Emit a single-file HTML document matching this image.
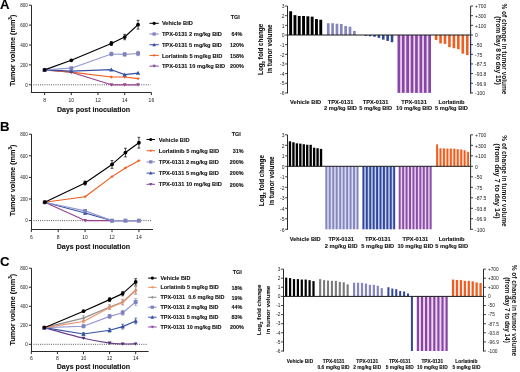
<!DOCTYPE html>
<html><head><meta charset="utf-8"><title>Figure</title>
<style>
html,body{margin:0;padding:0;background:#fff;}
body{width:520px;height:372px;overflow:hidden;}
svg{display:block;filter:blur(0.25px);font-family:"Liberation Sans", sans-serif;}
text{stroke:#111;stroke-width:0.1px;}
text[font-weight="normal"],text.ns{stroke:none;}
</style></head>
<body>
<svg width="520" height="372" viewBox="0 0 520 372">
<rect width="520" height="372" fill="#fff"/>
<text x="0" y="9.2" font-size="13.2" font-weight="bold" text-anchor="start" fill="#000" >A</text>
<line x1="31.5" y1="5.2" x2="31.5" y2="93" stroke="#2a2a2a" stroke-width="1" />
<line x1="31" y1="92.5" x2="151.5" y2="92.5" stroke="#2a2a2a" stroke-width="1.0" />
<line x1="28.9" y1="84.8" x2="31.5" y2="84.8" stroke="#2a2a2a" stroke-width="1" />
<text x="27.9" y="86.5" font-size="4.6" font-weight="normal" text-anchor="end" fill="#222" >0</text>
<line x1="28.9" y1="64.9" x2="31.5" y2="64.9" stroke="#2a2a2a" stroke-width="1" />
<text x="27.9" y="66.6" font-size="4.6" font-weight="normal" text-anchor="end" fill="#222" >200</text>
<line x1="28.9" y1="45" x2="31.5" y2="45" stroke="#2a2a2a" stroke-width="1" />
<text x="27.9" y="46.7" font-size="4.6" font-weight="normal" text-anchor="end" fill="#222" >400</text>
<line x1="28.9" y1="25.1" x2="31.5" y2="25.1" stroke="#2a2a2a" stroke-width="1" />
<text x="27.9" y="26.8" font-size="4.6" font-weight="normal" text-anchor="end" fill="#222" >600</text>
<line x1="28.9" y1="5.2" x2="31.5" y2="5.2" stroke="#2a2a2a" stroke-width="1" />
<text x="27.9" y="6.9" font-size="4.6" font-weight="normal" text-anchor="end" fill="#222" >800</text>
<line x1="44.6" y1="92.5" x2="44.6" y2="95.1" stroke="#2a2a2a" stroke-width="1" />
<text x="44.6" y="102.2" font-size="5.0" font-weight="normal" text-anchor="middle" fill="#222" >8</text>
<line x1="71.3" y1="92.5" x2="71.3" y2="95.1" stroke="#2a2a2a" stroke-width="1" />
<text x="71.3" y="102.2" font-size="5.0" font-weight="normal" text-anchor="middle" fill="#222" >10</text>
<line x1="98" y1="92.5" x2="98" y2="95.1" stroke="#2a2a2a" stroke-width="1" />
<text x="98" y="102.2" font-size="5.0" font-weight="normal" text-anchor="middle" fill="#222" >12</text>
<line x1="124.7" y1="92.5" x2="124.7" y2="95.1" stroke="#2a2a2a" stroke-width="1" />
<text x="124.7" y="102.2" font-size="5.0" font-weight="normal" text-anchor="middle" fill="#222" >14</text>
<line x1="151.4" y1="92.5" x2="151.4" y2="95.1" stroke="#2a2a2a" stroke-width="1" />
<text x="151.4" y="102.2" font-size="5.0" font-weight="normal" text-anchor="middle" fill="#222" >16</text>
<line x1="33.5" y1="84.8" x2="150.5" y2="84.8" stroke="#333" stroke-width="0.9" stroke-dasharray="0.9 1.3"/>
<text x="93.5" y="112" font-size="7.05" font-weight="bold" text-anchor="middle" fill="#111" >Days post inoculation</text>
<text x="0" y="0" transform="translate(14.5,50.5) rotate(-90) scale(1,1.05)" font-size="7.25" font-weight="bold" text-anchor="middle" fill="#111">Tumor volume (mm<tspan font-size="4.6" dy="-2.6">3</tspan><tspan dy="2.6">)</tspan></text>
<path d="M44.6,69.88 L71.3,72.26 L111.35,84.8 L124.7,84.8 L138.05,84.8" fill="none" stroke="#9a4292" stroke-width="1.15" stroke-linejoin="round" />
<path d="M44.6,71.78 L46.5,68.36 L42.7,68.36 Z" fill="#9a4292"/>
<path d="M71.3,74.16 L73.2,70.74 L69.4,70.74 Z" fill="#9a4292"/>
<path d="M111.35,86.7 L113.25,83.28 L109.45,83.28 Z" fill="#9a4292"/>
<path d="M124.7,86.7 L126.6,83.28 L122.8,83.28 Z" fill="#9a4292"/>
<path d="M138.05,86.7 L139.95,83.28 L136.15,83.28 Z" fill="#9a4292"/>
<path d="M44.6,69.88 L71.3,72.06 L111.35,77.04 L124.7,77.04 L138.05,78.63" fill="none" stroke="#f05d20" stroke-width="1.15" stroke-linejoin="round" />
<path d="M43.2,69.88 H46 M44.6,68.47 V71.28" stroke="#f05d20" stroke-width="1"/>
<path d="M69.9,72.06 H72.7 M71.3,70.66 V73.46" stroke="#f05d20" stroke-width="1"/>
<path d="M109.95,77.04 H112.75 M111.35,75.64 V78.44" stroke="#f05d20" stroke-width="1"/>
<path d="M123.3,77.04 H126.1 M124.7,75.64 V78.44" stroke="#f05d20" stroke-width="1"/>
<path d="M136.65,78.63 H139.45 M138.05,77.23 V80.03" stroke="#f05d20" stroke-width="1"/>
<path d="M44.6,69.88 L71.3,71.17 L111.35,69.68 L124.7,74.65 L138.05,73.06" fill="none" stroke="#3651a3" stroke-width="1.15" stroke-linejoin="round" />
<path d="M44.6,67.67 L46.8,71.64 L42.4,71.64 Z" fill="#3651a3"/>
<path d="M71.3,68.97 L73.5,72.93 L69.1,72.93 Z" fill="#3651a3"/>
<path d="M111.35,67.48 L113.55,71.44 L109.15,71.44 Z" fill="#3651a3"/>
<path d="M124.7,72.45 L126.9,76.41 L122.5,76.41 Z" fill="#3651a3"/>
<path d="M138.05,70.86 L140.25,74.82 L135.85,74.82 Z" fill="#3651a3"/>
<path d="M44.6,69.88 L71.3,68.18 L111.35,53.95 L124.7,54.35 L138.05,53.46" fill="none" stroke="#9598d0" stroke-width="1.15" stroke-linejoin="round" />
<rect x="42.7" y="67.97" width="3.8" height="3.8" fill="#7f83bd"/>
<rect x="69.4" y="66.28" width="3.8" height="3.8" fill="#7f83bd"/>
<line x1="111.35" y1="52.16" x2="111.35" y2="55.75" stroke="#7f83bd" stroke-width="0.7" />
<line x1="109.95" y1="52.16" x2="112.75" y2="52.16" stroke="#7f83bd" stroke-width="0.7" />
<line x1="109.95" y1="55.75" x2="112.75" y2="55.75" stroke="#7f83bd" stroke-width="0.7" />
<rect x="109.45" y="52.05" width="3.8" height="3.8" fill="#7f83bd"/>
<line x1="124.7" y1="52.56" x2="124.7" y2="56.14" stroke="#7f83bd" stroke-width="0.7" />
<line x1="123.3" y1="52.56" x2="126.1" y2="52.56" stroke="#7f83bd" stroke-width="0.7" />
<line x1="123.3" y1="56.14" x2="126.1" y2="56.14" stroke="#7f83bd" stroke-width="0.7" />
<rect x="122.8" y="52.45" width="3.8" height="3.8" fill="#7f83bd"/>
<line x1="138.05" y1="51.27" x2="138.05" y2="55.65" stroke="#7f83bd" stroke-width="0.7" />
<line x1="136.65" y1="51.27" x2="139.45" y2="51.27" stroke="#7f83bd" stroke-width="0.7" />
<line x1="136.65" y1="55.65" x2="139.45" y2="55.65" stroke="#7f83bd" stroke-width="0.7" />
<rect x="136.15" y="51.56" width="3.8" height="3.8" fill="#7f83bd"/>
<path d="M44.6,69.88 L71.3,60.32 L111.35,43.51 L124.7,37.04 L138.05,24.7" fill="none" stroke="#000" stroke-width="1.15" stroke-linejoin="round" />
<circle cx="44.6" cy="69.88" r="1.9" fill="#000"/>
<circle cx="71.3" cy="60.32" r="1.9" fill="#000"/>
<line x1="111.35" y1="41.52" x2="111.35" y2="45.5" stroke="#000" stroke-width="0.7" />
<line x1="109.95" y1="41.52" x2="112.75" y2="41.52" stroke="#000" stroke-width="0.7" />
<line x1="109.95" y1="45.5" x2="112.75" y2="45.5" stroke="#000" stroke-width="0.7" />
<circle cx="111.35" cy="43.51" r="1.9" fill="#000"/>
<line x1="124.7" y1="34.35" x2="124.7" y2="39.73" stroke="#000" stroke-width="0.7" />
<line x1="123.3" y1="34.35" x2="126.1" y2="34.35" stroke="#000" stroke-width="0.7" />
<line x1="123.3" y1="39.73" x2="126.1" y2="39.73" stroke="#000" stroke-width="0.7" />
<circle cx="124.7" cy="37.04" r="1.9" fill="#000"/>
<line x1="138.05" y1="20.32" x2="138.05" y2="29.08" stroke="#000" stroke-width="0.7" />
<line x1="136.65" y1="20.32" x2="139.45" y2="20.32" stroke="#000" stroke-width="0.7" />
<line x1="136.65" y1="29.08" x2="139.45" y2="29.08" stroke="#000" stroke-width="0.7" />
<circle cx="138.05" cy="24.7" r="1.9" fill="#000"/>
<line x1="149.5" y1="23.3" x2="158.8" y2="23.3" stroke="#000" stroke-width="1" />
<circle cx="154.15" cy="23.3" r="1.61" fill="#000"/>
<text x="161.9" y="25.4" font-size="5.7" font-weight="bold" text-anchor="start" fill="#111" >Vehicle BID</text>
<line x1="149.5" y1="34" x2="158.8" y2="34" stroke="#7f83bd" stroke-width="1" />
<rect x="152.53" y="32.38" width="3.23" height="3.23" fill="#7f83bd"/>
<text x="161.9" y="36.1" font-size="5.7" font-weight="bold" text-anchor="start" fill="#111" >TPX-0131 2 mg/kg BID</text>
<text x="236.9" y="36.2" font-size="5.4" font-weight="bold" text-anchor="middle" fill="#111" >64%</text>
<line x1="149.5" y1="44.7" x2="158.8" y2="44.7" stroke="#3651a3" stroke-width="1" />
<path d="M154.15,42.83 L156.02,46.2 L152.28,46.2 Z" fill="#3651a3"/>
<text x="161.9" y="46.8" font-size="5.7" font-weight="bold" text-anchor="start" fill="#111" >TPX-0131 5 mg/kg BID</text>
<text x="236.9" y="46.9" font-size="5.4" font-weight="bold" text-anchor="middle" fill="#111" >120%</text>
<line x1="149.5" y1="55.4" x2="158.8" y2="55.4" stroke="#f05d20" stroke-width="1" />
<path d="M152.96,55.4 H155.34 M154.15,54.21 V56.59" stroke="#f05d20" stroke-width="1"/>
<text x="161.9" y="57.5" font-size="5.7" font-weight="bold" text-anchor="start" fill="#111" >Lorlatinib 5 mg/kg BID</text>
<text x="236.9" y="57.6" font-size="5.4" font-weight="bold" text-anchor="middle" fill="#111" >158%</text>
<line x1="149.5" y1="66.1" x2="158.8" y2="66.1" stroke="#8447a2" stroke-width="1" />
<path d="M154.15,67.71 L155.77,64.81 L152.53,64.81 Z" fill="#8447a2"/>
<text x="161.9" y="68.2" font-size="5.7" font-weight="bold" text-anchor="start" fill="#111" >TPX-0131 10 mg/kg BID</text>
<text x="236.9" y="68.3" font-size="5.4" font-weight="bold" text-anchor="middle" fill="#111" >200%</text>
<text x="235.3" y="19.2" font-size="5.4" font-weight="bold" text-anchor="middle" fill="#111" >TGI</text>
<rect x="289.2" y="11.26" width="2.9" height="23.74" fill="#000"/>
<rect x="293.5" y="15.12" width="2.9" height="19.88" fill="#000"/>
<rect x="297.8" y="15.99" width="2.9" height="19.01" fill="#000"/>
<rect x="302.1" y="15.99" width="2.9" height="19.01" fill="#000"/>
<rect x="306.4" y="16.28" width="2.9" height="18.72" fill="#000"/>
<rect x="310.7" y="16.66" width="2.9" height="18.34" fill="#000"/>
<rect x="315" y="19.08" width="2.9" height="15.92" fill="#000"/>
<rect x="319.3" y="19.75" width="2.9" height="15.25" fill="#000"/>
<rect x="326.9" y="23.23" width="2.7" height="11.77" fill="#8586be"/>
<rect x="331.25" y="23.23" width="2.7" height="11.77" fill="#8586be"/>
<rect x="335.6" y="23.71" width="2.7" height="11.29" fill="#8586be"/>
<rect x="339.95" y="24" width="2.7" height="11" fill="#8586be"/>
<rect x="344.3" y="26.03" width="2.7" height="8.97" fill="#8586be"/>
<rect x="348.65" y="26.7" width="2.7" height="8.3" fill="#8586be"/>
<rect x="353" y="30.95" width="2.7" height="4.05" fill="#8586be"/>
<rect x="364.5" y="35" width="2.6" height="0.87" fill="#33479a"/>
<rect x="368.87" y="35" width="2.6" height="1.25" fill="#33479a"/>
<rect x="373.24" y="35" width="2.6" height="1.74" fill="#33479a"/>
<rect x="377.61" y="35" width="2.6" height="2.9" fill="#33479a"/>
<rect x="381.98" y="35" width="2.6" height="4.63" fill="#33479a"/>
<rect x="386.35" y="35" width="2.6" height="5.89" fill="#33479a"/>
<rect x="390.72" y="35" width="2.6" height="7.24" fill="#33479a"/>
<rect x="400" y="35" width="2.1" height="57.9" fill="#f4d2f6"/>
<rect x="404.4" y="35" width="2.1" height="57.9" fill="#f4d2f6"/>
<rect x="408.8" y="35" width="2.1" height="57.9" fill="#f4d2f6"/>
<rect x="413.2" y="35" width="2.1" height="57.9" fill="#f4d2f6"/>
<rect x="417.6" y="35" width="2.1" height="57.9" fill="#f4d2f6"/>
<rect x="422" y="35" width="2.1" height="57.9" fill="#f4d2f6"/>
<rect x="426.4" y="35" width="2.1" height="57.9" fill="#f4d2f6"/>
<rect x="397.5" y="35" width="2.7" height="57.9" fill="#8447a2"/>
<rect x="401.9" y="35" width="2.7" height="57.9" fill="#8447a2"/>
<rect x="406.3" y="35" width="2.7" height="57.9" fill="#8447a2"/>
<rect x="410.7" y="35" width="2.7" height="57.9" fill="#8447a2"/>
<rect x="415.1" y="35" width="2.7" height="57.9" fill="#8447a2"/>
<rect x="419.5" y="35" width="2.7" height="57.9" fill="#8447a2"/>
<rect x="423.9" y="35" width="2.7" height="57.9" fill="#8447a2"/>
<rect x="428.3" y="35" width="2.7" height="57.9" fill="#8447a2"/>
<rect x="434.8" y="35" width="2.6" height="5.02" fill="#f05d20"/>
<rect x="439.25" y="35" width="2.6" height="8.4" fill="#f05d20"/>
<rect x="443.7" y="35" width="2.6" height="8.88" fill="#f05d20"/>
<rect x="448.15" y="35" width="2.6" height="12.16" fill="#f05d20"/>
<rect x="452.6" y="35" width="2.6" height="13.22" fill="#f05d20"/>
<rect x="457.05" y="35" width="2.6" height="14.19" fill="#f05d20"/>
<rect x="461.5" y="35" width="2.6" height="18.62" fill="#f05d20"/>
<rect x="465.95" y="35" width="2.6" height="20.07" fill="#f05d20"/>
<line x1="287.5" y1="35" x2="470.6" y2="35" stroke="#1a1a1a" stroke-width="1.0" />
<line x1="287.5" y1="6.05" x2="287.5" y2="93.4" stroke="#2a2a2a" stroke-width="1.0" />
<line x1="285.1" y1="92.9" x2="287.5" y2="92.9" stroke="#2a2a2a" stroke-width="0.9" />
<text x="284.5" y="95.1" font-size="5.0" font-weight="normal" text-anchor="end" fill="#222" >-6</text>
<line x1="285.1" y1="83.25" x2="287.5" y2="83.25" stroke="#2a2a2a" stroke-width="0.9" />
<text x="284.5" y="85.45" font-size="5.0" font-weight="normal" text-anchor="end" fill="#222" >-5</text>
<line x1="285.1" y1="73.6" x2="287.5" y2="73.6" stroke="#2a2a2a" stroke-width="0.9" />
<text x="284.5" y="75.8" font-size="5.0" font-weight="normal" text-anchor="end" fill="#222" >-4</text>
<line x1="285.1" y1="63.95" x2="287.5" y2="63.95" stroke="#2a2a2a" stroke-width="0.9" />
<text x="284.5" y="66.15" font-size="5.0" font-weight="normal" text-anchor="end" fill="#222" >-3</text>
<line x1="285.1" y1="54.3" x2="287.5" y2="54.3" stroke="#2a2a2a" stroke-width="0.9" />
<text x="284.5" y="56.5" font-size="5.0" font-weight="normal" text-anchor="end" fill="#222" >-2</text>
<line x1="285.1" y1="44.65" x2="287.5" y2="44.65" stroke="#2a2a2a" stroke-width="0.9" />
<text x="284.5" y="46.85" font-size="5.0" font-weight="normal" text-anchor="end" fill="#222" >-1</text>
<line x1="285.1" y1="35" x2="287.5" y2="35" stroke="#2a2a2a" stroke-width="0.9" />
<text x="284.5" y="37.2" font-size="5.0" font-weight="normal" text-anchor="end" fill="#222" >0</text>
<line x1="285.1" y1="25.35" x2="287.5" y2="25.35" stroke="#2a2a2a" stroke-width="0.9" />
<text x="284.5" y="27.55" font-size="5.0" font-weight="normal" text-anchor="end" fill="#222" >1</text>
<line x1="285.1" y1="15.7" x2="287.5" y2="15.7" stroke="#2a2a2a" stroke-width="0.9" />
<text x="284.5" y="17.9" font-size="5.0" font-weight="normal" text-anchor="end" fill="#222" >2</text>
<line x1="285.1" y1="6.05" x2="287.5" y2="6.05" stroke="#2a2a2a" stroke-width="0.9" />
<text x="284.5" y="8.25" font-size="5.0" font-weight="normal" text-anchor="end" fill="#222" >3</text>
<line x1="470.6" y1="6.05" x2="470.6" y2="93.4" stroke="#2a2a2a" stroke-width="1.0" />
<line x1="470.6" y1="31.14" x2="470.6" y2="93.4" stroke="#22306e" stroke-width="1.0" />
<line x1="470.6" y1="6.05" x2="473" y2="6.05" stroke="#2a2a2a" stroke-width="0.9" />
<text x="475" y="8.35" font-size="5.0" font-weight="normal" text-anchor="start" fill="#222" >+700</text>
<line x1="470.6" y1="15.7" x2="473" y2="15.7" stroke="#2a2a2a" stroke-width="0.9" />
<text x="475" y="18" font-size="5.0" font-weight="normal" text-anchor="start" fill="#222" >+300</text>
<line x1="470.6" y1="25.35" x2="473" y2="25.35" stroke="#2a2a2a" stroke-width="0.9" />
<text x="475" y="27.65" font-size="5.0" font-weight="normal" text-anchor="start" fill="#222" >+100</text>
<line x1="470.6" y1="35" x2="473" y2="35" stroke="#2a2a2a" stroke-width="0.9" />
<text x="475" y="37.3" font-size="5.0" font-weight="normal" text-anchor="start" fill="#222" >0</text>
<line x1="470.6" y1="44.65" x2="473" y2="44.65" stroke="#2a2a2a" stroke-width="0.9" />
<text x="475" y="46.95" font-size="5.0" font-weight="normal" text-anchor="start" fill="#222" >-50</text>
<line x1="470.6" y1="54.3" x2="473" y2="54.3" stroke="#2a2a2a" stroke-width="0.9" />
<text x="475" y="56.6" font-size="5.0" font-weight="normal" text-anchor="start" fill="#222" >-75</text>
<line x1="470.6" y1="63.95" x2="473" y2="63.95" stroke="#2a2a2a" stroke-width="0.9" />
<text x="475" y="66.25" font-size="5.0" font-weight="normal" text-anchor="start" fill="#222" >-87.5</text>
<line x1="470.6" y1="73.6" x2="473" y2="73.6" stroke="#2a2a2a" stroke-width="0.9" />
<text x="475" y="75.9" font-size="5.0" font-weight="normal" text-anchor="start" fill="#222" >-93.8</text>
<line x1="470.6" y1="83.25" x2="473" y2="83.25" stroke="#2a2a2a" stroke-width="0.9" />
<text x="475" y="85.55" font-size="5.0" font-weight="normal" text-anchor="start" fill="#222" >-96.9</text>
<line x1="470.6" y1="92.9" x2="473" y2="92.9" stroke="#2a2a2a" stroke-width="0.9" />
<text x="475" y="95.2" font-size="5.0" font-weight="normal" text-anchor="start" fill="#222" >-100</text>
<text transform="translate(263.3,49.4) rotate(-90)" font-size="6.3" font-weight="bold" text-anchor="middle" fill="#111">Log<tspan font-size="4.4" dy="2">2</tspan><tspan dy="-2"> fold change</tspan></text>
<text transform="translate(272.3,49) rotate(-90)" font-size="6.3" font-weight="bold" text-anchor="middle" fill="#111">in tumor volume</text>
<text transform="translate(501.5,49) rotate(90)" class="ns" font-size="6.5" font-weight="bold" text-anchor="middle" fill="#111" textLength="91" lengthAdjust="spacingAndGlyphs">% of change in tumor volume</text>
<text transform="translate(495.8,50.4) rotate(90)" class="ns" font-size="6.6" font-weight="bold" text-anchor="middle" fill="#111" textLength="68.5" lengthAdjust="spacingAndGlyphs">(from day 8 to day 15)</text>
<text x="305.6" y="103.6" font-size="5.7" font-weight="bold" text-anchor="middle" fill="#111" >Vehicle BID</text>
<text x="340.5" y="103.6" font-size="5.7" font-weight="bold" text-anchor="middle" fill="#111" >TPX-0131</text>
<text x="340.5" y="110" font-size="5.7" font-weight="bold" text-anchor="middle" fill="#111" >2 mg/kg BID</text>
<text x="375.6" y="103.6" font-size="5.7" font-weight="bold" text-anchor="middle" fill="#111" >TPX-0131</text>
<text x="375.6" y="110" font-size="5.7" font-weight="bold" text-anchor="middle" fill="#111" >5 mg/kg BID</text>
<text x="414" y="103.6" font-size="5.7" font-weight="bold" text-anchor="middle" fill="#111" >TPX-0131</text>
<text x="414" y="110" font-size="5.7" font-weight="bold" text-anchor="middle" fill="#111" >10 mg/kg BID</text>
<text x="451.5" y="103.6" font-size="5.7" font-weight="bold" text-anchor="middle" fill="#111" >Lorlatinib</text>
<text x="451.5" y="110" font-size="5.7" font-weight="bold" text-anchor="middle" fill="#111" >5 mg/kg BID</text>
<text x="0" y="131.3" font-size="13.2" font-weight="bold" text-anchor="start" fill="#000" >B</text>
<line x1="31.5" y1="134.1" x2="31.5" y2="230" stroke="#2a2a2a" stroke-width="1" />
<line x1="31" y1="229.5" x2="153" y2="229.5" stroke="#2a2a2a" stroke-width="1.0" />
<line x1="28.9" y1="220.6" x2="31.5" y2="220.6" stroke="#2a2a2a" stroke-width="1" />
<text x="27.9" y="222.3" font-size="4.6" font-weight="normal" text-anchor="end" fill="#222" >0</text>
<line x1="28.9" y1="199" x2="31.5" y2="199" stroke="#2a2a2a" stroke-width="1" />
<text x="27.9" y="200.7" font-size="4.6" font-weight="normal" text-anchor="end" fill="#222" >200</text>
<line x1="28.9" y1="177.4" x2="31.5" y2="177.4" stroke="#2a2a2a" stroke-width="1" />
<text x="27.9" y="179.1" font-size="4.6" font-weight="normal" text-anchor="end" fill="#222" >400</text>
<line x1="28.9" y1="155.8" x2="31.5" y2="155.8" stroke="#2a2a2a" stroke-width="1" />
<text x="27.9" y="157.5" font-size="4.6" font-weight="normal" text-anchor="end" fill="#222" >600</text>
<line x1="28.9" y1="134.2" x2="31.5" y2="134.2" stroke="#2a2a2a" stroke-width="1" />
<text x="27.9" y="135.9" font-size="4.6" font-weight="normal" text-anchor="end" fill="#222" >800</text>
<line x1="31.3" y1="229.5" x2="31.3" y2="232.1" stroke="#2a2a2a" stroke-width="1" />
<text x="31.3" y="238.7" font-size="5.0" font-weight="normal" text-anchor="middle" fill="#222" >6</text>
<line x1="58.2" y1="229.5" x2="58.2" y2="232.1" stroke="#2a2a2a" stroke-width="1" />
<text x="58.2" y="238.7" font-size="5.0" font-weight="normal" text-anchor="middle" fill="#222" >8</text>
<line x1="85.1" y1="229.5" x2="85.1" y2="232.1" stroke="#2a2a2a" stroke-width="1" />
<text x="85.1" y="238.7" font-size="5.0" font-weight="normal" text-anchor="middle" fill="#222" >10</text>
<line x1="112" y1="229.5" x2="112" y2="232.1" stroke="#2a2a2a" stroke-width="1" />
<text x="112" y="238.7" font-size="5.0" font-weight="normal" text-anchor="middle" fill="#222" >12</text>
<line x1="138.9" y1="229.5" x2="138.9" y2="232.1" stroke="#2a2a2a" stroke-width="1" />
<text x="138.9" y="238.7" font-size="5.0" font-weight="normal" text-anchor="middle" fill="#222" >14</text>
<line x1="33.5" y1="220.6" x2="151.5" y2="220.6" stroke="#333" stroke-width="0.9" stroke-dasharray="0.9 1.3"/>
<text x="93.4" y="249.3" font-size="7.05" font-weight="bold" text-anchor="middle" fill="#111" >Days post inoculation</text>
<text x="0" y="0" transform="translate(14.5,180.4) rotate(-90) scale(1,1.05)" font-size="7.25" font-weight="bold" text-anchor="middle" fill="#111">Tumor volume (mm<tspan font-size="4.6" dy="-2.6">3</tspan><tspan dy="2.6">)</tspan></text>
<path d="M44.75,202.24 L85.1,220.6 L112,220.6 L125.45,220.6 L138.9,220.6" fill="none" stroke="#9a4292" stroke-width="1.15" stroke-linejoin="round" />
<path d="M44.75,204.14 L46.65,200.72 L42.85,200.72 Z" fill="#9a4292"/>
<path d="M85.1,222.5 L87,219.08 L83.2,219.08 Z" fill="#9a4292"/>
<path d="M112,222.5 L113.9,219.08 L110.1,219.08 Z" fill="#9a4292"/>
<path d="M125.45,222.5 L127.35,219.08 L123.55,219.08 Z" fill="#9a4292"/>
<path d="M138.9,222.5 L140.8,219.08 L137,219.08 Z" fill="#9a4292"/>
<path d="M44.75,202.24 L85.1,213.04 L112,220.6 L125.45,220.6 L138.9,220.6" fill="none" stroke="#3651a3" stroke-width="1.15" stroke-linejoin="round" />
<path d="M44.75,200.04 L46.95,204 L42.55,204 Z" fill="#3651a3"/>
<path d="M85.1,210.84 L87.3,214.8 L82.9,214.8 Z" fill="#3651a3"/>
<path d="M112,218.4 L114.2,222.36 L109.8,222.36 Z" fill="#3651a3"/>
<path d="M125.45,218.4 L127.65,222.36 L123.25,222.36 Z" fill="#3651a3"/>
<path d="M138.9,218.4 L141.1,222.36 L136.7,222.36 Z" fill="#3651a3"/>
<path d="M44.75,202.24 L85.1,210.88 L112,220.6 L125.45,220.6 L138.9,220.6" fill="none" stroke="#9598d0" stroke-width="1.15" stroke-linejoin="round" />
<rect x="42.85" y="200.34" width="3.8" height="3.8" fill="#7f83bd"/>
<rect x="83.2" y="208.98" width="3.8" height="3.8" fill="#7f83bd"/>
<rect x="110.1" y="218.7" width="3.8" height="3.8" fill="#7f83bd"/>
<rect x="123.55" y="218.7" width="3.8" height="3.8" fill="#7f83bd"/>
<rect x="137" y="218.7" width="3.8" height="3.8" fill="#7f83bd"/>
<path d="M44.75,202.24 L85.1,196.73 L112,176.64 L125.45,167.9 L138.9,160.66" fill="none" stroke="#f05d20" stroke-width="1.15" stroke-linejoin="round" />
<path d="M43.35,202.24 H46.15 M44.75,200.84 V203.64" stroke="#f05d20" stroke-width="1"/>
<path d="M83.7,196.73 H86.5 M85.1,195.33 V198.13" stroke="#f05d20" stroke-width="1"/>
<path d="M110.6,176.64 H113.4 M112,175.24 V178.04" stroke="#f05d20" stroke-width="1"/>
<path d="M124.05,167.9 H126.85 M125.45,166.5 V169.3" stroke="#f05d20" stroke-width="1"/>
<path d="M137.5,160.66 H140.3 M138.9,159.26 V162.06" stroke="#f05d20" stroke-width="1"/>
<path d="M44.75,202.24 L85.1,183.02 L112,164.44 L125.45,152.56 L138.9,142.73" fill="none" stroke="#000" stroke-width="1.15" stroke-linejoin="round" />
<circle cx="44.75" cy="202.24" r="1.9" fill="#000"/>
<line x1="85.1" y1="181.07" x2="85.1" y2="184.96" stroke="#000" stroke-width="0.7" />
<line x1="83.7" y1="181.07" x2="86.5" y2="181.07" stroke="#000" stroke-width="0.7" />
<line x1="83.7" y1="184.96" x2="86.5" y2="184.96" stroke="#000" stroke-width="0.7" />
<circle cx="85.1" cy="183.02" r="1.9" fill="#000"/>
<line x1="112" y1="160.55" x2="112" y2="168.33" stroke="#000" stroke-width="0.7" />
<line x1="110.6" y1="160.55" x2="113.4" y2="160.55" stroke="#000" stroke-width="0.7" />
<line x1="110.6" y1="168.33" x2="113.4" y2="168.33" stroke="#000" stroke-width="0.7" />
<circle cx="112" cy="164.44" r="1.9" fill="#000"/>
<line x1="125.45" y1="148.24" x2="125.45" y2="156.88" stroke="#000" stroke-width="0.7" />
<line x1="124.05" y1="148.24" x2="126.85" y2="148.24" stroke="#000" stroke-width="0.7" />
<line x1="124.05" y1="156.88" x2="126.85" y2="156.88" stroke="#000" stroke-width="0.7" />
<circle cx="125.45" cy="152.56" r="1.9" fill="#000"/>
<line x1="138.9" y1="137.33" x2="138.9" y2="148.13" stroke="#000" stroke-width="0.7" />
<line x1="137.5" y1="137.33" x2="140.3" y2="137.33" stroke="#000" stroke-width="0.7" />
<line x1="137.5" y1="148.13" x2="140.3" y2="148.13" stroke="#000" stroke-width="0.7" />
<circle cx="138.9" cy="142.73" r="1.9" fill="#000"/>
<line x1="146.5" y1="139.5" x2="155" y2="139.5" stroke="#000" stroke-width="1" />
<circle cx="150.75" cy="139.5" r="1.61" fill="#000"/>
<text x="158.7" y="141.6" font-size="5.7" font-weight="bold" text-anchor="start" fill="#111" >Vehicle BID</text>
<line x1="146.5" y1="150.7" x2="155" y2="150.7" stroke="#f05d20" stroke-width="1" />
<path d="M149.56,150.7 H151.94 M150.75,149.51 V151.89" stroke="#f05d20" stroke-width="1"/>
<text x="158.7" y="152.8" font-size="5.7" font-weight="bold" text-anchor="start" fill="#111" >Lorlatinib 5 mg/kg BID</text>
<text x="243.6" y="152.9" font-size="5.4" font-weight="bold" text-anchor="end" fill="#111" >31%</text>
<line x1="146.5" y1="161.9" x2="155" y2="161.9" stroke="#7f83bd" stroke-width="1" />
<rect x="149.13" y="160.28" width="3.23" height="3.23" fill="#7f83bd"/>
<text x="158.7" y="164" font-size="5.7" font-weight="bold" text-anchor="start" fill="#111" >TPX-0131 2 mg/kg BID</text>
<text x="243.6" y="164.1" font-size="5.4" font-weight="bold" text-anchor="end" fill="#111" >200%</text>
<line x1="146.5" y1="173.1" x2="155" y2="173.1" stroke="#3651a3" stroke-width="1" />
<path d="M150.75,171.23 L152.62,174.6 L148.88,174.6 Z" fill="#3651a3"/>
<text x="158.7" y="175.2" font-size="5.7" font-weight="bold" text-anchor="start" fill="#111" >TPX-0131 5 mg/kg BID</text>
<text x="243.6" y="175.3" font-size="5.4" font-weight="bold" text-anchor="end" fill="#111" >200%</text>
<line x1="146.5" y1="184.3" x2="155" y2="184.3" stroke="#8447a2" stroke-width="1" />
<path d="M150.75,185.92 L152.37,183.01 L149.13,183.01 Z" fill="#8447a2"/>
<text x="158.7" y="186.4" font-size="5.7" font-weight="bold" text-anchor="start" fill="#111" >TPX-0131 10 mg/kg BID</text>
<text x="243.6" y="186.5" font-size="5.4" font-weight="bold" text-anchor="end" fill="#111" >200%</text>
<text x="236.3" y="135.6" font-size="5.4" font-weight="bold" text-anchor="middle" fill="#111" >TGI</text>
<rect x="288.8" y="141.31" width="2.35" height="24.99" fill="#000"/>
<rect x="292.25" y="142.25" width="2.35" height="24.05" fill="#000"/>
<rect x="295.7" y="143.31" width="2.35" height="23" fill="#000"/>
<rect x="299.15" y="143.62" width="2.35" height="22.68" fill="#000"/>
<rect x="302.6" y="144.25" width="2.35" height="22.05" fill="#000"/>
<rect x="306.05" y="144.78" width="2.35" height="21.52" fill="#000"/>
<rect x="309.5" y="144.78" width="2.35" height="21.52" fill="#000"/>
<rect x="312.95" y="147.72" width="2.35" height="18.59" fill="#000"/>
<rect x="316.4" y="148.24" width="2.35" height="18.06" fill="#000"/>
<rect x="319.85" y="148.87" width="2.35" height="17.43" fill="#000"/>
<rect x="327.1" y="166.3" width="1.87" height="63" fill="#dcdcf6"/>
<rect x="330.57" y="166.3" width="1.87" height="63" fill="#dcdcf6"/>
<rect x="334.04" y="166.3" width="1.87" height="63" fill="#dcdcf6"/>
<rect x="337.51" y="166.3" width="1.87" height="63" fill="#dcdcf6"/>
<rect x="340.98" y="166.3" width="1.87" height="63" fill="#dcdcf6"/>
<rect x="344.45" y="166.3" width="1.87" height="63" fill="#dcdcf6"/>
<rect x="347.92" y="166.3" width="1.87" height="63" fill="#dcdcf6"/>
<rect x="351.39" y="166.3" width="1.87" height="63" fill="#dcdcf6"/>
<rect x="354.86" y="166.3" width="1.87" height="63" fill="#dcdcf6"/>
<rect x="325.3" y="166.3" width="2" height="63" fill="#8586be"/>
<rect x="328.77" y="166.3" width="2" height="63" fill="#8586be"/>
<rect x="332.24" y="166.3" width="2" height="63" fill="#8586be"/>
<rect x="335.71" y="166.3" width="2" height="63" fill="#8586be"/>
<rect x="339.18" y="166.3" width="2" height="63" fill="#8586be"/>
<rect x="342.65" y="166.3" width="2" height="63" fill="#8586be"/>
<rect x="346.12" y="166.3" width="2" height="63" fill="#8586be"/>
<rect x="349.59" y="166.3" width="2" height="63" fill="#8586be"/>
<rect x="353.06" y="166.3" width="2" height="63" fill="#8586be"/>
<rect x="356.53" y="166.3" width="2" height="63" fill="#8586be"/>
<rect x="364.2" y="166.3" width="1.82" height="63" fill="#c4d2fa"/>
<rect x="367.62" y="166.3" width="1.82" height="63" fill="#c4d2fa"/>
<rect x="371.04" y="166.3" width="1.82" height="63" fill="#c4d2fa"/>
<rect x="374.46" y="166.3" width="1.82" height="63" fill="#c4d2fa"/>
<rect x="377.88" y="166.3" width="1.82" height="63" fill="#c4d2fa"/>
<rect x="381.3" y="166.3" width="1.82" height="63" fill="#c4d2fa"/>
<rect x="384.72" y="166.3" width="1.82" height="63" fill="#c4d2fa"/>
<rect x="388.14" y="166.3" width="1.82" height="63" fill="#c4d2fa"/>
<rect x="391.56" y="166.3" width="1.82" height="63" fill="#c4d2fa"/>
<rect x="362.4" y="166.3" width="2" height="63" fill="#33479a"/>
<rect x="365.82" y="166.3" width="2" height="63" fill="#33479a"/>
<rect x="369.24" y="166.3" width="2" height="63" fill="#33479a"/>
<rect x="372.66" y="166.3" width="2" height="63" fill="#33479a"/>
<rect x="376.08" y="166.3" width="2" height="63" fill="#33479a"/>
<rect x="379.5" y="166.3" width="2" height="63" fill="#33479a"/>
<rect x="382.92" y="166.3" width="2" height="63" fill="#33479a"/>
<rect x="386.34" y="166.3" width="2" height="63" fill="#33479a"/>
<rect x="389.76" y="166.3" width="2" height="63" fill="#33479a"/>
<rect x="393.18" y="166.3" width="2" height="63" fill="#33479a"/>
<rect x="400.5" y="166.3" width="1.84" height="63" fill="#f2cdf5"/>
<rect x="403.94" y="166.3" width="1.84" height="63" fill="#f2cdf5"/>
<rect x="407.38" y="166.3" width="1.84" height="63" fill="#f2cdf5"/>
<rect x="410.82" y="166.3" width="1.84" height="63" fill="#f2cdf5"/>
<rect x="414.26" y="166.3" width="1.84" height="63" fill="#f2cdf5"/>
<rect x="417.7" y="166.3" width="1.84" height="63" fill="#f2cdf5"/>
<rect x="421.14" y="166.3" width="1.84" height="63" fill="#f2cdf5"/>
<rect x="424.58" y="166.3" width="1.84" height="63" fill="#f2cdf5"/>
<rect x="428.02" y="166.3" width="1.84" height="63" fill="#f2cdf5"/>
<rect x="398.7" y="166.3" width="2" height="63" fill="#8550a5"/>
<rect x="402.14" y="166.3" width="2" height="63" fill="#8550a5"/>
<rect x="405.58" y="166.3" width="2" height="63" fill="#8550a5"/>
<rect x="409.02" y="166.3" width="2" height="63" fill="#8550a5"/>
<rect x="412.46" y="166.3" width="2" height="63" fill="#8550a5"/>
<rect x="415.9" y="166.3" width="2" height="63" fill="#8550a5"/>
<rect x="419.34" y="166.3" width="2" height="63" fill="#8550a5"/>
<rect x="422.78" y="166.3" width="2" height="63" fill="#8550a5"/>
<rect x="426.22" y="166.3" width="2" height="63" fill="#8550a5"/>
<rect x="429.66" y="166.3" width="2" height="63" fill="#8550a5"/>
<rect x="437.8" y="148.35" width="1.95" height="17.95" fill="#fde0cc"/>
<rect x="441.25" y="148.35" width="1.95" height="17.95" fill="#fde0cc"/>
<rect x="444.7" y="148.56" width="1.95" height="17.75" fill="#fde0cc"/>
<rect x="448.15" y="148.56" width="1.95" height="17.75" fill="#fde0cc"/>
<rect x="451.6" y="148.66" width="1.95" height="17.64" fill="#fde0cc"/>
<rect x="455.05" y="149.19" width="1.95" height="17.11" fill="#fde0cc"/>
<rect x="458.5" y="149.4" width="1.95" height="16.91" fill="#fde0cc"/>
<rect x="461.95" y="150.24" width="1.95" height="16.07" fill="#fde0cc"/>
<rect x="465.4" y="151.81" width="1.95" height="14.49" fill="#fde0cc"/>
<rect x="436.1" y="144.36" width="1.9" height="21.95" fill="#f05d20"/>
<rect x="439.55" y="148.35" width="1.9" height="17.95" fill="#f05d20"/>
<rect x="443" y="148.35" width="1.9" height="17.95" fill="#f05d20"/>
<rect x="446.45" y="148.56" width="1.9" height="17.75" fill="#f05d20"/>
<rect x="449.9" y="148.56" width="1.9" height="17.75" fill="#f05d20"/>
<rect x="453.35" y="148.66" width="1.9" height="17.64" fill="#f05d20"/>
<rect x="456.8" y="149.19" width="1.9" height="17.11" fill="#f05d20"/>
<rect x="460.25" y="149.4" width="1.9" height="16.91" fill="#f05d20"/>
<rect x="463.7" y="150.24" width="1.9" height="16.07" fill="#f05d20"/>
<rect x="467.15" y="151.81" width="1.9" height="14.49" fill="#f05d20"/>
<line x1="287.5" y1="166.3" x2="470.6" y2="166.3" stroke="#1a1a1a" stroke-width="1.0" />
<line x1="287.5" y1="134.8" x2="287.5" y2="229.8" stroke="#2a2a2a" stroke-width="1.0" />
<line x1="285.1" y1="229.3" x2="287.5" y2="229.3" stroke="#2a2a2a" stroke-width="0.9" />
<text x="284.5" y="231.5" font-size="5.0" font-weight="normal" text-anchor="end" fill="#222" >-6</text>
<line x1="285.1" y1="218.8" x2="287.5" y2="218.8" stroke="#2a2a2a" stroke-width="0.9" />
<text x="284.5" y="221" font-size="5.0" font-weight="normal" text-anchor="end" fill="#222" >-5</text>
<line x1="285.1" y1="208.3" x2="287.5" y2="208.3" stroke="#2a2a2a" stroke-width="0.9" />
<text x="284.5" y="210.5" font-size="5.0" font-weight="normal" text-anchor="end" fill="#222" >-4</text>
<line x1="285.1" y1="197.8" x2="287.5" y2="197.8" stroke="#2a2a2a" stroke-width="0.9" />
<text x="284.5" y="200" font-size="5.0" font-weight="normal" text-anchor="end" fill="#222" >-3</text>
<line x1="285.1" y1="187.3" x2="287.5" y2="187.3" stroke="#2a2a2a" stroke-width="0.9" />
<text x="284.5" y="189.5" font-size="5.0" font-weight="normal" text-anchor="end" fill="#222" >-2</text>
<line x1="285.1" y1="176.8" x2="287.5" y2="176.8" stroke="#2a2a2a" stroke-width="0.9" />
<text x="284.5" y="179" font-size="5.0" font-weight="normal" text-anchor="end" fill="#222" >-1</text>
<line x1="285.1" y1="166.3" x2="287.5" y2="166.3" stroke="#2a2a2a" stroke-width="0.9" />
<text x="284.5" y="168.5" font-size="5.0" font-weight="normal" text-anchor="end" fill="#222" >0</text>
<line x1="285.1" y1="155.8" x2="287.5" y2="155.8" stroke="#2a2a2a" stroke-width="0.9" />
<text x="284.5" y="158" font-size="5.0" font-weight="normal" text-anchor="end" fill="#222" >1</text>
<line x1="285.1" y1="145.3" x2="287.5" y2="145.3" stroke="#2a2a2a" stroke-width="0.9" />
<text x="284.5" y="147.5" font-size="5.0" font-weight="normal" text-anchor="end" fill="#222" >2</text>
<line x1="285.1" y1="134.8" x2="287.5" y2="134.8" stroke="#2a2a2a" stroke-width="0.9" />
<text x="284.5" y="137" font-size="5.0" font-weight="normal" text-anchor="end" fill="#222" >3</text>
<line x1="470.6" y1="134.8" x2="470.6" y2="229.8" stroke="#2a2a2a" stroke-width="1.0" />
<line x1="470.6" y1="134.8" x2="473" y2="134.8" stroke="#2a2a2a" stroke-width="0.9" />
<text x="475" y="137.1" font-size="5.0" font-weight="normal" text-anchor="start" fill="#222" >+700</text>
<line x1="470.6" y1="145.3" x2="473" y2="145.3" stroke="#2a2a2a" stroke-width="0.9" />
<text x="475" y="147.6" font-size="5.0" font-weight="normal" text-anchor="start" fill="#222" >+300</text>
<line x1="470.6" y1="155.8" x2="473" y2="155.8" stroke="#2a2a2a" stroke-width="0.9" />
<text x="475" y="158.1" font-size="5.0" font-weight="normal" text-anchor="start" fill="#222" >+100</text>
<line x1="470.6" y1="166.3" x2="473" y2="166.3" stroke="#2a2a2a" stroke-width="0.9" />
<text x="475" y="168.6" font-size="5.0" font-weight="normal" text-anchor="start" fill="#222" >0</text>
<line x1="470.6" y1="176.8" x2="473" y2="176.8" stroke="#2a2a2a" stroke-width="0.9" />
<text x="475" y="179.1" font-size="5.0" font-weight="normal" text-anchor="start" fill="#222" >-50</text>
<line x1="470.6" y1="187.3" x2="473" y2="187.3" stroke="#2a2a2a" stroke-width="0.9" />
<text x="475" y="189.6" font-size="5.0" font-weight="normal" text-anchor="start" fill="#222" >-75</text>
<line x1="470.6" y1="197.8" x2="473" y2="197.8" stroke="#2a2a2a" stroke-width="0.9" />
<text x="475" y="200.1" font-size="5.0" font-weight="normal" text-anchor="start" fill="#222" >-87.5</text>
<line x1="470.6" y1="208.3" x2="473" y2="208.3" stroke="#2a2a2a" stroke-width="0.9" />
<text x="475" y="210.6" font-size="5.0" font-weight="normal" text-anchor="start" fill="#222" >-93.8</text>
<line x1="470.6" y1="218.8" x2="473" y2="218.8" stroke="#2a2a2a" stroke-width="0.9" />
<text x="475" y="221.1" font-size="5.0" font-weight="normal" text-anchor="start" fill="#222" >-96.9</text>
<line x1="470.6" y1="229.3" x2="473" y2="229.3" stroke="#2a2a2a" stroke-width="0.9" />
<text x="475" y="231.6" font-size="5.0" font-weight="normal" text-anchor="start" fill="#222" >-100</text>
<text transform="translate(264.3,180.65) rotate(-90)" font-size="6.3" font-weight="bold" text-anchor="middle" fill="#111">Log<tspan font-size="4.4" dy="2">2</tspan><tspan dy="-2"> fold change</tspan></text>
<text transform="translate(273.9,181) rotate(-90)" font-size="6.3" font-weight="bold" text-anchor="middle" fill="#111">in tumor volume</text>
<text transform="translate(502.4,181) rotate(90)" class="ns" font-size="6.6" font-weight="bold" text-anchor="middle" fill="#111" textLength="91.5" lengthAdjust="spacingAndGlyphs">% of change in tumor volume</text>
<text transform="translate(494.7,181.1) rotate(90)" class="ns" font-size="7.0" font-weight="bold" text-anchor="middle" fill="#111" textLength="75" lengthAdjust="spacingAndGlyphs">(from day 7 to day 14)</text>
<text x="305.2" y="241" font-size="5.7" font-weight="bold" text-anchor="middle" fill="#111" >Vehicle BID</text>
<text x="341.2" y="241" font-size="5.7" font-weight="bold" text-anchor="middle" fill="#111" >TPX-0131</text>
<text x="341.2" y="248.2" font-size="5.7" font-weight="bold" text-anchor="middle" fill="#111" >2 mg/kg BID</text>
<text x="377.8" y="241" font-size="5.7" font-weight="bold" text-anchor="middle" fill="#111" >TPX-0131</text>
<text x="377.8" y="248.2" font-size="5.7" font-weight="bold" text-anchor="middle" fill="#111" >5 mg/kg BID</text>
<text x="415.4" y="241" font-size="5.7" font-weight="bold" text-anchor="middle" fill="#111" >TPX-0131</text>
<text x="415.4" y="248.2" font-size="5.7" font-weight="bold" text-anchor="middle" fill="#111" >10 mg/kg BID</text>
<text x="451.6" y="241" font-size="5.7" font-weight="bold" text-anchor="middle" fill="#111" >Lorlatinib</text>
<text x="451.6" y="248.2" font-size="5.7" font-weight="bold" text-anchor="middle" fill="#111" >5 mg/kg BID</text>
<text x="0" y="265.5" font-size="13.2" font-weight="bold" text-anchor="start" fill="#000" >C</text>
<line x1="31.5" y1="268.2" x2="31.5" y2="352" stroke="#2a2a2a" stroke-width="1" />
<line x1="31" y1="351.5" x2="148.6" y2="351.5" stroke="#2a2a2a" stroke-width="1.0" />
<line x1="28.9" y1="344.3" x2="31.5" y2="344.3" stroke="#2a2a2a" stroke-width="1" />
<text x="27.9" y="346" font-size="4.6" font-weight="normal" text-anchor="end" fill="#222" >0</text>
<line x1="28.9" y1="325.28" x2="31.5" y2="325.28" stroke="#2a2a2a" stroke-width="1" />
<text x="27.9" y="326.98" font-size="4.6" font-weight="normal" text-anchor="end" fill="#222" >200</text>
<line x1="28.9" y1="306.26" x2="31.5" y2="306.26" stroke="#2a2a2a" stroke-width="1" />
<text x="27.9" y="307.96" font-size="4.6" font-weight="normal" text-anchor="end" fill="#222" >400</text>
<line x1="28.9" y1="287.24" x2="31.5" y2="287.24" stroke="#2a2a2a" stroke-width="1" />
<text x="27.9" y="288.94" font-size="4.6" font-weight="normal" text-anchor="end" fill="#222" >600</text>
<line x1="28.9" y1="268.22" x2="31.5" y2="268.22" stroke="#2a2a2a" stroke-width="1" />
<text x="27.9" y="269.92" font-size="4.6" font-weight="normal" text-anchor="end" fill="#222" >800</text>
<line x1="31.3" y1="351.5" x2="31.3" y2="354.1" stroke="#2a2a2a" stroke-width="1" />
<text x="31.3" y="359.7" font-size="5.0" font-weight="normal" text-anchor="middle" fill="#222" >6</text>
<line x1="57.4" y1="351.5" x2="57.4" y2="354.1" stroke="#2a2a2a" stroke-width="1" />
<text x="57.4" y="359.7" font-size="5.0" font-weight="normal" text-anchor="middle" fill="#222" >8</text>
<line x1="83.5" y1="351.5" x2="83.5" y2="354.1" stroke="#2a2a2a" stroke-width="1" />
<text x="83.5" y="359.7" font-size="5.0" font-weight="normal" text-anchor="middle" fill="#222" >10</text>
<line x1="109.6" y1="351.5" x2="109.6" y2="354.1" stroke="#2a2a2a" stroke-width="1" />
<text x="109.6" y="359.7" font-size="5.0" font-weight="normal" text-anchor="middle" fill="#222" >12</text>
<line x1="135.7" y1="351.5" x2="135.7" y2="354.1" stroke="#2a2a2a" stroke-width="1" />
<text x="135.7" y="359.7" font-size="5.0" font-weight="normal" text-anchor="middle" fill="#222" >14</text>
<line x1="33.5" y1="344.3" x2="147.5" y2="344.3" stroke="#333" stroke-width="0.9" stroke-dasharray="0.9 1.3"/>
<text x="93.4" y="369.4" font-size="7.05" font-weight="bold" text-anchor="middle" fill="#111" >Days post inoculation</text>
<text x="0" y="0" transform="translate(14.5,309.7) rotate(-90) scale(1,1.05)" font-size="7.25" font-weight="bold" text-anchor="middle" fill="#111">Tumor volume (mm<tspan font-size="4.6" dy="-2.6">3</tspan><tspan dy="2.6">)</tspan></text>
<path d="M44.35,327.66 C50.88,329.42 72.62,335.65 83.5,338.21 C94.38,340.78 103.08,342.11 109.6,343.06 C116.13,344.01 118.3,343.78 122.65,343.92 C127,344.06 133.53,343.92 135.7,343.92" fill="none" stroke="#6a3f86" stroke-width="1.15" stroke-linejoin="round" />
<path d="M44.35,329.56 L46.25,326.14 L42.45,326.14 Z" fill="#4a2f6e"/>
<path d="M83.5,340.11 L85.4,336.69 L81.6,336.69 Z" fill="#4a2f6e"/>
<path d="M109.6,344.96 L111.5,341.54 L107.7,341.54 Z" fill="#4a2f6e"/>
<path d="M122.65,345.82 L124.55,342.4 L120.75,342.4 Z" fill="#4a2f6e"/>
<path d="M135.7,345.82 L137.6,342.4 L133.8,342.4 Z" fill="#4a2f6e"/>
<path d="M44.35,327.66 L83.5,334.03 L109.6,330.23 L122.65,326.61 L135.7,321" fill="none" stroke="#3651a3" stroke-width="1.15" stroke-linejoin="round" />
<path d="M44.35,325.46 L46.55,329.42 L42.15,329.42 Z" fill="#3651a3"/>
<line x1="83.5" y1="332.6" x2="83.5" y2="335.46" stroke="#3651a3" stroke-width="0.7" />
<line x1="82.1" y1="332.6" x2="84.9" y2="332.6" stroke="#3651a3" stroke-width="0.7" />
<line x1="82.1" y1="335.46" x2="84.9" y2="335.46" stroke="#3651a3" stroke-width="0.7" />
<path d="M83.5,331.83 L85.7,335.79 L81.3,335.79 Z" fill="#3651a3"/>
<line x1="109.6" y1="328.32" x2="109.6" y2="332.13" stroke="#3651a3" stroke-width="0.7" />
<line x1="108.2" y1="328.32" x2="111" y2="328.32" stroke="#3651a3" stroke-width="0.7" />
<line x1="108.2" y1="332.13" x2="111" y2="332.13" stroke="#3651a3" stroke-width="0.7" />
<path d="M109.6,328.03 L111.8,331.99 L107.4,331.99 Z" fill="#3651a3"/>
<line x1="122.65" y1="324.23" x2="122.65" y2="328.99" stroke="#3651a3" stroke-width="0.7" />
<line x1="121.25" y1="324.23" x2="124.05" y2="324.23" stroke="#3651a3" stroke-width="0.7" />
<line x1="121.25" y1="328.99" x2="124.05" y2="328.99" stroke="#3651a3" stroke-width="0.7" />
<path d="M122.65,324.41 L124.85,328.37 L120.45,328.37 Z" fill="#3651a3"/>
<line x1="135.7" y1="318.15" x2="135.7" y2="323.85" stroke="#3651a3" stroke-width="0.7" />
<line x1="134.3" y1="318.15" x2="137.1" y2="318.15" stroke="#3651a3" stroke-width="0.7" />
<line x1="134.3" y1="323.85" x2="137.1" y2="323.85" stroke="#3651a3" stroke-width="0.7" />
<path d="M135.7,318.8 L137.9,322.76 L133.5,322.76 Z" fill="#3651a3"/>
<path d="M44.35,327.66 L83.5,326.23 L109.6,316.34 L122.65,312.73 L135.7,301.98" fill="none" stroke="#9598d0" stroke-width="1.15" stroke-linejoin="round" />
<rect x="42.45" y="325.76" width="3.8" height="3.8" fill="#7f83bd"/>
<line x1="83.5" y1="324.8" x2="83.5" y2="327.66" stroke="#7f83bd" stroke-width="0.7" />
<line x1="82.1" y1="324.8" x2="84.9" y2="324.8" stroke="#7f83bd" stroke-width="0.7" />
<line x1="82.1" y1="327.66" x2="84.9" y2="327.66" stroke="#7f83bd" stroke-width="0.7" />
<rect x="81.6" y="324.33" width="3.8" height="3.8" fill="#7f83bd"/>
<line x1="109.6" y1="314.44" x2="109.6" y2="318.24" stroke="#7f83bd" stroke-width="0.7" />
<line x1="108.2" y1="314.44" x2="111" y2="314.44" stroke="#7f83bd" stroke-width="0.7" />
<line x1="108.2" y1="318.24" x2="111" y2="318.24" stroke="#7f83bd" stroke-width="0.7" />
<rect x="107.7" y="314.44" width="3.8" height="3.8" fill="#7f83bd"/>
<line x1="122.65" y1="310.35" x2="122.65" y2="315.1" stroke="#7f83bd" stroke-width="0.7" />
<line x1="121.25" y1="310.35" x2="124.05" y2="310.35" stroke="#7f83bd" stroke-width="0.7" />
<line x1="121.25" y1="315.1" x2="124.05" y2="315.1" stroke="#7f83bd" stroke-width="0.7" />
<rect x="120.75" y="310.83" width="3.8" height="3.8" fill="#7f83bd"/>
<line x1="135.7" y1="298.65" x2="135.7" y2="305.31" stroke="#7f83bd" stroke-width="0.7" />
<line x1="134.3" y1="298.65" x2="137.1" y2="298.65" stroke="#7f83bd" stroke-width="0.7" />
<line x1="134.3" y1="305.31" x2="137.1" y2="305.31" stroke="#7f83bd" stroke-width="0.7" />
<rect x="133.8" y="300.08" width="3.8" height="3.8" fill="#7f83bd"/>
<path d="M44.35,327.66 L83.5,318.15 L109.6,307.02 L122.65,301.98 L135.7,290.47" fill="none" stroke="#8f8f8f" stroke-width="1.15" stroke-linejoin="round" />
<path d="M44.35,325.96 L46.05,327.66 L44.35,329.36 L42.65,327.66 Z" fill="#8f8f8f"/>
<line x1="83.5" y1="315.77" x2="83.5" y2="320.53" stroke="#8f8f8f" stroke-width="0.7" />
<line x1="82.1" y1="315.77" x2="84.9" y2="315.77" stroke="#8f8f8f" stroke-width="0.7" />
<line x1="82.1" y1="320.53" x2="84.9" y2="320.53" stroke="#8f8f8f" stroke-width="0.7" />
<path d="M83.5,316.45 L85.2,318.15 L83.5,319.85 L81.8,318.15 Z" fill="#8f8f8f"/>
<line x1="109.6" y1="304.64" x2="109.6" y2="309.4" stroke="#8f8f8f" stroke-width="0.7" />
<line x1="108.2" y1="304.64" x2="111" y2="304.64" stroke="#8f8f8f" stroke-width="0.7" />
<line x1="108.2" y1="309.4" x2="111" y2="309.4" stroke="#8f8f8f" stroke-width="0.7" />
<path d="M109.6,305.32 L111.3,307.02 L109.6,308.72 L107.9,307.02 Z" fill="#8f8f8f"/>
<line x1="122.65" y1="299.13" x2="122.65" y2="304.83" stroke="#8f8f8f" stroke-width="0.7" />
<line x1="121.25" y1="299.13" x2="124.05" y2="299.13" stroke="#8f8f8f" stroke-width="0.7" />
<line x1="121.25" y1="304.83" x2="124.05" y2="304.83" stroke="#8f8f8f" stroke-width="0.7" />
<path d="M122.65,300.28 L124.35,301.98 L122.65,303.68 L120.95,301.98 Z" fill="#8f8f8f"/>
<line x1="135.7" y1="286.67" x2="135.7" y2="294.28" stroke="#8f8f8f" stroke-width="0.7" />
<line x1="134.3" y1="286.67" x2="137.1" y2="286.67" stroke="#8f8f8f" stroke-width="0.7" />
<line x1="134.3" y1="294.28" x2="137.1" y2="294.28" stroke="#8f8f8f" stroke-width="0.7" />
<path d="M135.7,288.77 L137.4,290.47 L135.7,292.17 L134,290.47 Z" fill="#8f8f8f"/>
<path d="M44.35,327.66 L83.5,321.48 L109.6,307.59 L122.65,302.46 L135.7,290" fill="none" stroke="#e8906a" stroke-width="1.15" stroke-linejoin="round" />
<path d="M42.95,327.66 H45.75 M44.35,326.26 V329.06" stroke="#e8906a" stroke-width="1"/>
<line x1="83.5" y1="320.05" x2="83.5" y2="322.9" stroke="#e8906a" stroke-width="0.7" />
<line x1="82.1" y1="320.05" x2="84.9" y2="320.05" stroke="#e8906a" stroke-width="0.7" />
<line x1="82.1" y1="322.9" x2="84.9" y2="322.9" stroke="#e8906a" stroke-width="0.7" />
<path d="M82.1,321.48 H84.9 M83.5,320.08 V322.88" stroke="#e8906a" stroke-width="1"/>
<line x1="109.6" y1="305.69" x2="109.6" y2="309.49" stroke="#e8906a" stroke-width="0.7" />
<line x1="108.2" y1="305.69" x2="111" y2="305.69" stroke="#e8906a" stroke-width="0.7" />
<line x1="108.2" y1="309.49" x2="111" y2="309.49" stroke="#e8906a" stroke-width="0.7" />
<path d="M108.2,307.59 H111 M109.6,306.19 V308.99" stroke="#e8906a" stroke-width="1"/>
<line x1="122.65" y1="300.08" x2="122.65" y2="304.83" stroke="#e8906a" stroke-width="0.7" />
<line x1="121.25" y1="300.08" x2="124.05" y2="300.08" stroke="#e8906a" stroke-width="0.7" />
<line x1="121.25" y1="304.83" x2="124.05" y2="304.83" stroke="#e8906a" stroke-width="0.7" />
<path d="M121.25,302.46 H124.05 M122.65,301.06 V303.86" stroke="#e8906a" stroke-width="1"/>
<line x1="135.7" y1="286.67" x2="135.7" y2="293.33" stroke="#e8906a" stroke-width="0.7" />
<line x1="134.3" y1="286.67" x2="137.1" y2="286.67" stroke="#e8906a" stroke-width="0.7" />
<line x1="134.3" y1="293.33" x2="137.1" y2="293.33" stroke="#e8906a" stroke-width="0.7" />
<path d="M134.3,290 H137.1 M135.7,288.6 V291.4" stroke="#e8906a" stroke-width="1"/>
<path d="M44.35,327.66 L83.5,311.21 L109.6,299.6 L122.65,293.61 L135.7,281.91" fill="none" stroke="#000" stroke-width="1.15" stroke-linejoin="round" />
<circle cx="44.35" cy="327.66" r="1.9" fill="#000"/>
<circle cx="83.5" cy="311.21" r="1.9" fill="#000"/>
<line x1="109.6" y1="297.7" x2="109.6" y2="301.5" stroke="#000" stroke-width="0.7" />
<line x1="108.2" y1="297.7" x2="111" y2="297.7" stroke="#000" stroke-width="0.7" />
<line x1="108.2" y1="301.5" x2="111" y2="301.5" stroke="#000" stroke-width="0.7" />
<circle cx="109.6" cy="299.6" r="1.9" fill="#000"/>
<line x1="122.65" y1="291.42" x2="122.65" y2="295.8" stroke="#000" stroke-width="0.7" />
<line x1="121.25" y1="291.42" x2="124.05" y2="291.42" stroke="#000" stroke-width="0.7" />
<line x1="121.25" y1="295.8" x2="124.05" y2="295.8" stroke="#000" stroke-width="0.7" />
<circle cx="122.65" cy="293.61" r="1.9" fill="#000"/>
<line x1="135.7" y1="278.68" x2="135.7" y2="285.15" stroke="#000" stroke-width="0.7" />
<line x1="134.3" y1="278.68" x2="137.1" y2="278.68" stroke="#000" stroke-width="0.7" />
<line x1="134.3" y1="285.15" x2="137.1" y2="285.15" stroke="#000" stroke-width="0.7" />
<circle cx="135.7" cy="281.91" r="1.9" fill="#000"/>
<line x1="148.1" y1="278.1" x2="156.6" y2="278.1" stroke="#000" stroke-width="1" />
<circle cx="152.35" cy="278.1" r="1.61" fill="#000"/>
<text x="160.4" y="280.2" font-size="5.5" font-weight="bold" text-anchor="start" fill="#111" >Vehicle BID</text>
<line x1="148.1" y1="287.3" x2="156.6" y2="287.3" stroke="#f0905c" stroke-width="1" />
<path d="M151.16,287.3 H153.54 M152.35,286.11 V288.49" stroke="#f0905c" stroke-width="1"/>
<text x="160.4" y="289.4" font-size="5.5" font-weight="bold" text-anchor="start" fill="#111" >Lorlatinib 5 mg/kg BID</text>
<text x="237" y="289.5" font-size="5.4" font-weight="bold" text-anchor="middle" fill="#111" >18%</text>
<line x1="148.1" y1="297.3" x2="156.6" y2="297.3" stroke="#8f8f8f" stroke-width="1" />
<path d="M152.35,295.86 L153.79,297.3 L152.35,298.75 L150.91,297.3 Z" fill="#8f8f8f"/>
<text x="160.4" y="299.4" font-size="5.5" font-weight="bold" text-anchor="start" fill="#111" >TPX-0131&#160; 0.6 mg/kg BID</text>
<text x="237" y="299.5" font-size="5.4" font-weight="bold" text-anchor="middle" fill="#111" >19%</text>
<line x1="148.1" y1="307.2" x2="156.6" y2="307.2" stroke="#7f83bd" stroke-width="1" />
<rect x="150.73" y="305.58" width="3.23" height="3.23" fill="#7f83bd"/>
<text x="160.4" y="309.3" font-size="5.5" font-weight="bold" text-anchor="start" fill="#111" >TPX-0131 2 mg/kg BID</text>
<text x="237" y="309.4" font-size="5.4" font-weight="bold" text-anchor="middle" fill="#111" >44%</text>
<line x1="148.1" y1="317.2" x2="156.6" y2="317.2" stroke="#3651a3" stroke-width="1" />
<path d="M152.35,315.33 L154.22,318.7 L150.48,318.7 Z" fill="#3651a3"/>
<text x="160.4" y="319.3" font-size="5.5" font-weight="bold" text-anchor="start" fill="#111" >TPX-0131 5 mg/kg BID</text>
<text x="237" y="319.4" font-size="5.4" font-weight="bold" text-anchor="middle" fill="#111" >83%</text>
<line x1="148.1" y1="327" x2="156.6" y2="327" stroke="#8447a2" stroke-width="1" />
<path d="M152.35,328.62 L153.97,325.71 L150.73,325.71 Z" fill="#8447a2"/>
<text x="160.4" y="329.1" font-size="5.5" font-weight="bold" text-anchor="start" fill="#111" >TPX-0131 10 mg/kg BID</text>
<text x="237" y="329.2" font-size="5.4" font-weight="bold" text-anchor="middle" fill="#111" >200%</text>
<text x="237.3" y="274.4" font-size="5.4" font-weight="bold" text-anchor="middle" fill="#111" >TGI</text>
<rect x="285.1" y="277.65" width="2.2" height="18.75" fill="#000"/>
<rect x="289" y="278.11" width="2.2" height="18.29" fill="#000"/>
<rect x="292.9" y="279.11" width="2.2" height="17.29" fill="#000"/>
<rect x="296.8" y="279.11" width="2.2" height="17.29" fill="#000"/>
<rect x="300.7" y="279.56" width="2.2" height="16.84" fill="#000"/>
<rect x="304.6" y="279.56" width="2.2" height="16.84" fill="#000"/>
<rect x="308.5" y="280.2" width="2.2" height="16.2" fill="#000"/>
<rect x="312.4" y="281.11" width="2.2" height="15.29" fill="#000"/>
<rect x="319.1" y="279.11" width="2.1" height="17.29" fill="#7a7a7a"/>
<rect x="323.03" y="280.11" width="2.1" height="16.29" fill="#7a7a7a"/>
<rect x="326.96" y="280.57" width="2.1" height="15.83" fill="#7a7a7a"/>
<rect x="330.89" y="280.84" width="2.1" height="15.56" fill="#7a7a7a"/>
<rect x="334.82" y="280.84" width="2.1" height="15.56" fill="#7a7a7a"/>
<rect x="338.75" y="281.93" width="2.1" height="14.47" fill="#7a7a7a"/>
<rect x="342.68" y="282.29" width="2.1" height="14.11" fill="#7a7a7a"/>
<rect x="346.61" y="284.39" width="2.1" height="12.01" fill="#7a7a7a"/>
<rect x="353" y="282.75" width="2.2" height="13.65" fill="#8586be"/>
<rect x="356.95" y="282.75" width="2.2" height="13.65" fill="#8586be"/>
<rect x="360.9" y="282.93" width="2.2" height="13.47" fill="#8586be"/>
<rect x="364.85" y="283.57" width="2.2" height="12.83" fill="#8586be"/>
<rect x="368.8" y="284.84" width="2.2" height="11.56" fill="#8586be"/>
<rect x="372.75" y="284.84" width="2.2" height="11.56" fill="#8586be"/>
<rect x="376.7" y="285.75" width="2.2" height="10.65" fill="#8586be"/>
<rect x="380.65" y="288.12" width="2.2" height="8.28" fill="#8586be"/>
<rect x="387.4" y="287.21" width="2" height="9.19" fill="#33479a"/>
<rect x="391.32" y="288.57" width="2" height="7.83" fill="#33479a"/>
<rect x="395.24" y="289.12" width="2" height="7.28" fill="#33479a"/>
<rect x="399.16" y="291.03" width="2" height="5.37" fill="#33479a"/>
<rect x="403.08" y="291.49" width="2" height="4.91" fill="#33479a"/>
<rect x="407" y="293.49" width="2" height="2.91" fill="#33479a"/>
<rect x="410.92" y="296.4" width="2" height="54.6" fill="#33479a"/>
<rect x="418.8" y="296.4" width="2.3" height="54.6" fill="#f4d2f6"/>
<rect x="422.9" y="296.4" width="2.3" height="54.6" fill="#f4d2f6"/>
<rect x="427" y="296.4" width="2.3" height="54.6" fill="#f4d2f6"/>
<rect x="431.1" y="296.4" width="2.3" height="54.6" fill="#f4d2f6"/>
<rect x="435.2" y="296.4" width="2.3" height="54.6" fill="#f4d2f6"/>
<rect x="439.3" y="296.4" width="2.3" height="54.6" fill="#f4d2f6"/>
<rect x="443.4" y="296.4" width="2.3" height="54.6" fill="#f4d2f6"/>
<rect x="416.8" y="296.4" width="2.2" height="54.6" fill="#8447a2"/>
<rect x="420.9" y="296.4" width="2.2" height="54.6" fill="#8447a2"/>
<rect x="425" y="296.4" width="2.2" height="54.6" fill="#8447a2"/>
<rect x="429.1" y="296.4" width="2.2" height="54.6" fill="#8447a2"/>
<rect x="433.2" y="296.4" width="2.2" height="54.6" fill="#8447a2"/>
<rect x="437.3" y="296.4" width="2.2" height="54.6" fill="#8447a2"/>
<rect x="441.4" y="296.4" width="2.2" height="54.6" fill="#8447a2"/>
<rect x="445.5" y="296.4" width="2.2" height="54.6" fill="#8447a2"/>
<rect x="451.9" y="279.56" width="2.3" height="16.84" fill="#f05d20"/>
<rect x="455.83" y="279.93" width="2.3" height="16.47" fill="#f05d20"/>
<rect x="459.76" y="280.11" width="2.3" height="16.29" fill="#f05d20"/>
<rect x="463.69" y="280.84" width="2.3" height="15.56" fill="#f05d20"/>
<rect x="467.62" y="280.84" width="2.3" height="15.56" fill="#f05d20"/>
<rect x="471.55" y="281.29" width="2.3" height="15.11" fill="#f05d20"/>
<rect x="475.48" y="282.39" width="2.3" height="14.01" fill="#f05d20"/>
<rect x="479.41" y="283.11" width="2.3" height="13.29" fill="#f05d20"/>
<line x1="283.5" y1="296.4" x2="483.5" y2="296.4" stroke="#1a1a1a" stroke-width="1.0" />
<line x1="283.5" y1="269.1" x2="283.5" y2="351.5" stroke="#2a2a2a" stroke-width="1.0" />
<line x1="281.1" y1="351" x2="283.5" y2="351" stroke="#2a2a2a" stroke-width="0.9" />
<text x="280.5" y="352.7" font-size="4.8" font-weight="normal" text-anchor="end" fill="#222" >-6</text>
<line x1="281.1" y1="341.9" x2="283.5" y2="341.9" stroke="#2a2a2a" stroke-width="0.9" />
<text x="280.5" y="343.6" font-size="4.8" font-weight="normal" text-anchor="end" fill="#222" >-5</text>
<line x1="281.1" y1="332.8" x2="283.5" y2="332.8" stroke="#2a2a2a" stroke-width="0.9" />
<text x="280.5" y="334.5" font-size="4.8" font-weight="normal" text-anchor="end" fill="#222" >-4</text>
<line x1="281.1" y1="323.7" x2="283.5" y2="323.7" stroke="#2a2a2a" stroke-width="0.9" />
<text x="280.5" y="325.4" font-size="4.8" font-weight="normal" text-anchor="end" fill="#222" >-3</text>
<line x1="281.1" y1="314.6" x2="283.5" y2="314.6" stroke="#2a2a2a" stroke-width="0.9" />
<text x="280.5" y="316.3" font-size="4.8" font-weight="normal" text-anchor="end" fill="#222" >-2</text>
<line x1="281.1" y1="305.5" x2="283.5" y2="305.5" stroke="#2a2a2a" stroke-width="0.9" />
<text x="280.5" y="307.2" font-size="4.8" font-weight="normal" text-anchor="end" fill="#222" >-1</text>
<line x1="281.1" y1="296.4" x2="283.5" y2="296.4" stroke="#2a2a2a" stroke-width="0.9" />
<text x="280.5" y="298.1" font-size="4.8" font-weight="normal" text-anchor="end" fill="#222" >0</text>
<line x1="281.1" y1="287.3" x2="283.5" y2="287.3" stroke="#2a2a2a" stroke-width="0.9" />
<text x="280.5" y="289" font-size="4.8" font-weight="normal" text-anchor="end" fill="#222" >1</text>
<line x1="281.1" y1="278.2" x2="283.5" y2="278.2" stroke="#2a2a2a" stroke-width="0.9" />
<text x="280.5" y="279.9" font-size="4.8" font-weight="normal" text-anchor="end" fill="#222" >2</text>
<line x1="281.1" y1="269.1" x2="283.5" y2="269.1" stroke="#2a2a2a" stroke-width="0.9" />
<text x="280.5" y="270.8" font-size="4.8" font-weight="normal" text-anchor="end" fill="#222" >3</text>
<line x1="483.5" y1="269.1" x2="483.5" y2="351.5" stroke="#2a2a2a" stroke-width="1.0" />
<line x1="483.5" y1="269.1" x2="485.9" y2="269.1" stroke="#2a2a2a" stroke-width="0.9" />
<text x="487.9" y="270.9" font-size="4.8" font-weight="normal" text-anchor="start" fill="#222" >+700</text>
<line x1="483.5" y1="278.2" x2="485.9" y2="278.2" stroke="#2a2a2a" stroke-width="0.9" />
<text x="487.9" y="280" font-size="4.8" font-weight="normal" text-anchor="start" fill="#222" >+300</text>
<line x1="483.5" y1="287.3" x2="485.9" y2="287.3" stroke="#2a2a2a" stroke-width="0.9" />
<text x="487.9" y="289.1" font-size="4.8" font-weight="normal" text-anchor="start" fill="#222" >+100</text>
<line x1="483.5" y1="296.4" x2="485.9" y2="296.4" stroke="#2a2a2a" stroke-width="0.9" />
<text x="487.9" y="298.2" font-size="4.8" font-weight="normal" text-anchor="start" fill="#222" >0</text>
<line x1="483.5" y1="305.5" x2="485.9" y2="305.5" stroke="#2a2a2a" stroke-width="0.9" />
<text x="487.9" y="307.3" font-size="4.8" font-weight="normal" text-anchor="start" fill="#222" >-50</text>
<line x1="483.5" y1="314.6" x2="485.9" y2="314.6" stroke="#2a2a2a" stroke-width="0.9" />
<text x="487.9" y="316.4" font-size="4.8" font-weight="normal" text-anchor="start" fill="#222" >-75</text>
<line x1="483.5" y1="323.7" x2="485.9" y2="323.7" stroke="#2a2a2a" stroke-width="0.9" />
<text x="487.9" y="325.5" font-size="4.8" font-weight="normal" text-anchor="start" fill="#222" >-87.5</text>
<line x1="483.5" y1="332.8" x2="485.9" y2="332.8" stroke="#2a2a2a" stroke-width="0.9" />
<text x="487.9" y="334.6" font-size="4.8" font-weight="normal" text-anchor="start" fill="#222" >-93.8</text>
<line x1="483.5" y1="341.9" x2="485.9" y2="341.9" stroke="#2a2a2a" stroke-width="0.9" />
<text x="487.9" y="343.7" font-size="4.8" font-weight="normal" text-anchor="start" fill="#222" >-96.9</text>
<line x1="483.5" y1="351" x2="485.9" y2="351" stroke="#2a2a2a" stroke-width="0.9" />
<text x="487.9" y="352.8" font-size="4.8" font-weight="normal" text-anchor="start" fill="#222" >-100</text>
<text transform="translate(261.1,310) rotate(-90)" font-size="6.25" font-weight="bold" text-anchor="middle" fill="#111">Log<tspan font-size="4.4" dy="2">2</tspan><tspan dy="-2"> fold change</tspan></text>
<text transform="translate(270.1,310) rotate(-90)" font-size="6.25" font-weight="bold" text-anchor="middle" fill="#111">in tumor volume</text>
<text transform="translate(512,310.4) rotate(90)" class="ns" font-size="6.4" font-weight="bold" text-anchor="middle" fill="#111" textLength="91.5" lengthAdjust="spacingAndGlyphs">% of change in tumor volume</text>
<text transform="translate(505.2,310) rotate(90)" class="ns" font-size="6.4" font-weight="bold" text-anchor="middle" fill="#111" textLength="65.5" lengthAdjust="spacingAndGlyphs">(from day 7 to day 14)</text>
<text x="300" y="362.7" font-size="4.85" font-weight="bold" text-anchor="middle" fill="#111" >Vehicle BID</text>
<text x="333.6" y="362.7" font-size="4.85" font-weight="bold" text-anchor="middle" fill="#111" >TPX-0131</text>
<text x="333.6" y="368.6" font-size="4.85" font-weight="bold" text-anchor="middle" fill="#111" >0.6 mg/kg BID</text>
<text x="367.2" y="362.7" font-size="4.85" font-weight="bold" text-anchor="middle" fill="#111" >TPX-0131</text>
<text x="367.2" y="368.6" font-size="4.85" font-weight="bold" text-anchor="middle" fill="#111" >2 mg/kg BID</text>
<text x="399.8" y="362.7" font-size="4.85" font-weight="bold" text-anchor="middle" fill="#111" >TPX-0131</text>
<text x="399.8" y="368.6" font-size="4.85" font-weight="bold" text-anchor="middle" fill="#111" >5 mg/kg BID</text>
<text x="432.3" y="362.7" font-size="4.85" font-weight="bold" text-anchor="middle" fill="#111" >TPX-0131</text>
<text x="432.3" y="368.6" font-size="4.85" font-weight="bold" text-anchor="middle" fill="#111" >10 mg/kg BID</text>
<text x="466.4" y="362.7" font-size="4.85" font-weight="bold" text-anchor="middle" fill="#111" >Lorlatinib</text>
<text x="466.4" y="368.6" font-size="4.85" font-weight="bold" text-anchor="middle" fill="#111" >5 mg/kg BID</text>
</svg>
</body></html>
